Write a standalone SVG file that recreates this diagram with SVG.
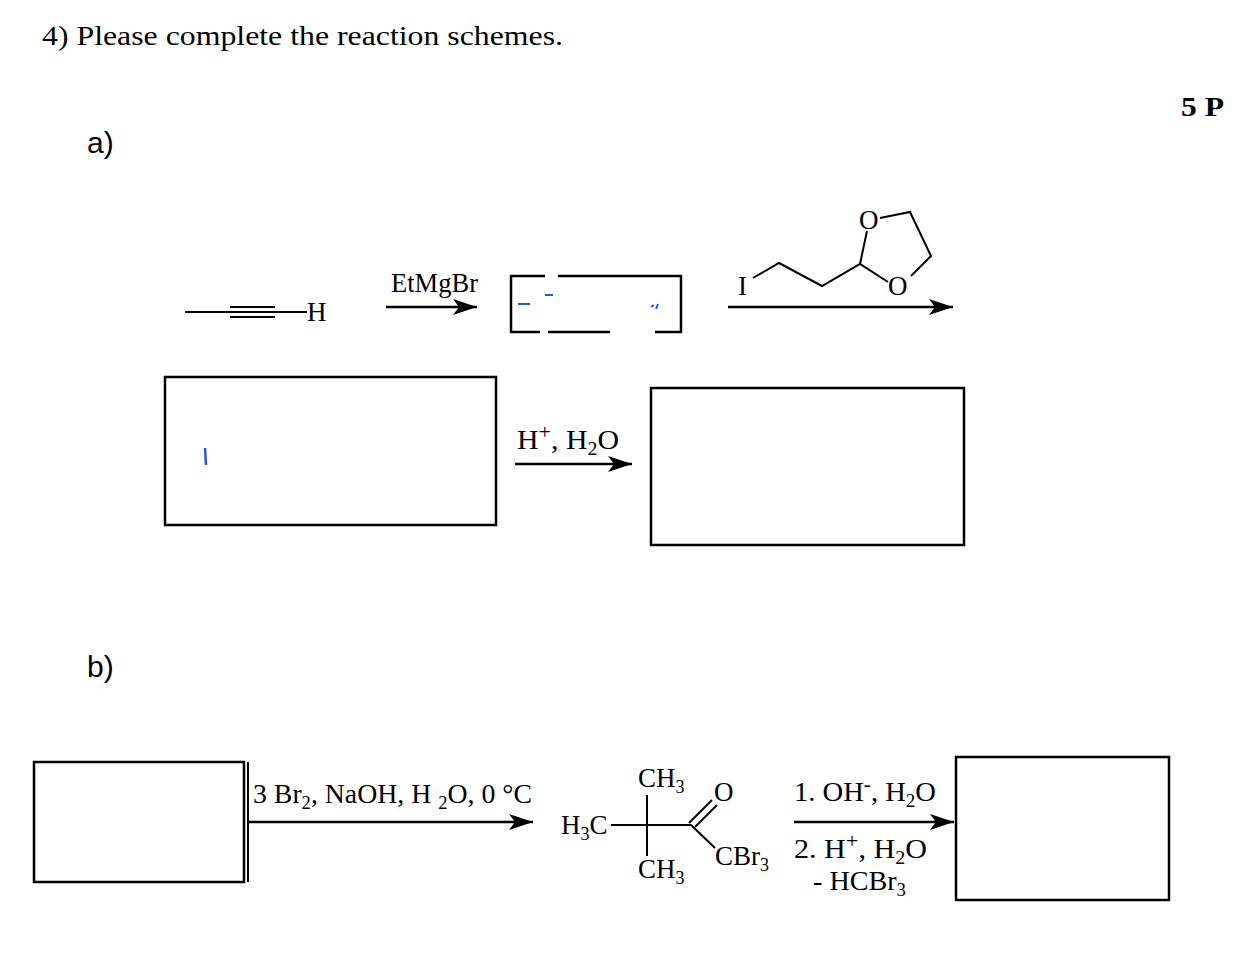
<svg xmlns="http://www.w3.org/2000/svg" width="1259" height="976" viewBox="0 0 1259 976">
<style>
.t{font-family:"Liberation Serif",serif;font-size:27px;fill:#000}
.s{font-family:"Liberation Sans",sans-serif;font-size:30px;fill:#000}
.b{fill:none;stroke:#000;stroke-width:2.5}
.l{fill:none;stroke:#000;stroke-width:2}
.a{fill:none;stroke:#000;stroke-width:2.5}
</style>
<defs><marker id="ah" viewBox="0 0 24 16" refX="24" refY="8" markerWidth="24" markerHeight="16" markerUnits="userSpaceOnUse" orient="auto"><path d="M0,0L24,8L0,16L6,8Z" fill="#000"/></marker></defs>
<rect width="1259" height="976" fill="#fff"/>
<text class="t" x="42" y="45" font-size="30" textLength="521" lengthAdjust="spacingAndGlyphs">4)  Please complete the reaction schemes.</text>
<text class="t" x="1181" y="116" font-size="30" font-weight="bold" textLength="43" lengthAdjust="spacingAndGlyphs">5 P</text>
<text class="s" x="87" y="153">a)</text>
<text class="s" x="87" y="677">b)</text>
<g id="alkyne">
<line class="l" x1="185" y1="312" x2="307" y2="312" stroke-width="2.5"/>
<line class="l" x1="230" y1="307" x2="275" y2="307"/>
<line class="l" x1="230" y1="317" x2="275" y2="317"/>
<text class="t" x="307" y="321">H</text>
</g>
<g id="intermediate">
<path class="b" d="M545,276H511V332H540M558,276H681V332H655M548,332H610"/>
<path d="M518,304h12M545,295h8M651,307l3,-2M658,304l-2,5" stroke="#2255ee" stroke-width="2" fill="none"/>
</g>
<g id="reagent">
<text class="t" x="738" y="295">I</text>
<polyline class="l" points="753,278 779,263 822,286 860,264 888,282"/>
<line class="l" x1="860" y1="264" x2="867" y2="231"/>
<polyline class="l" points="880,218 910,212 931,256 911,276"/>
<text class="t" x="859" y="229">O</text>
<text class="t" x="888" y="295">O</text>
</g>
<g id="box1"><rect class="b" x="165" y="377" width="331" height="148"/>
<line x1="205" y1="448" x2="206" y2="465" stroke="#2255ee" stroke-width="2.5"/></g>
<g id="box2"><rect class="b" x="651" y="388" width="313" height="157"/></g>
<g id="box3"><rect class="b" x="34" y="762" width="210" height="120"/></g>
<g id="box4"><rect class="b" x="956" y="757" width="213" height="143"/></g>
<g id="ketone">
<text class="t" x="561" y="834">H<tspan font-size="18" dy="6">3</tspan><tspan dy="-6">C</tspan></text>
<line class="l" x1="611" y1="825" x2="691" y2="825"/>
<line class="l" x1="647" y1="795" x2="647" y2="856"/>
<text class="t" x="638" y="787">CH<tspan font-size="18" dy="6">3</tspan></text>
<text class="t" x="638" y="878">CH<tspan font-size="18" dy="6">3</tspan></text>
<line class="l" x1="691" y1="825" x2="715" y2="848"/>
<line class="l" x1="689" y1="823" x2="712" y2="800"/>
<line class="l" x1="695" y1="827" x2="717" y2="805"/>
<text class="t" x="714" y="801">O</text>
<text class="t" x="715" y="865">CBr<tspan font-size="18" dy="6">3</tspan></text>
</g>
<g id="connectors">
<line class="a" x1="386" y1="307" x2="477" y2="307" marker-end="url(#ah)"/>
<line class="a" x1="728" y1="307" x2="953" y2="307" marker-end="url(#ah)"/>
<line class="a" x1="515" y1="464" x2="632" y2="464" marker-end="url(#ah)"/>
<line class="a" x1="249" y1="822" x2="533" y2="822" marker-end="url(#ah)"/>
<line class="a" x1="794" y1="822" x2="954" y2="822" marker-end="url(#ah)"/>
<line class="l" x1="248" y1="762" x2="248" y2="882"/>
</g>
<g id="labels">
<text class="t" x="391" y="292" textLength="87" lengthAdjust="spacingAndGlyphs">EtMgBr</text>
<text class="t" x="517" y="449" textLength="102" lengthAdjust="spacingAndGlyphs">H<tspan font-size="20" dy="-10">+</tspan><tspan dy="10">, H</tspan><tspan font-size="18" dy="6">2</tspan><tspan dy="-6">O</tspan></text>
<text class="t" x="253" y="803" textLength="279" lengthAdjust="spacingAndGlyphs">3 Br<tspan font-size="18" dy="6">2</tspan><tspan dy="-6">, NaOH, H </tspan><tspan font-size="18" dy="6">2</tspan><tspan dy="-6">O, 0 °C</tspan></text>
<text class="t" x="794" y="801" textLength="142" lengthAdjust="spacingAndGlyphs">1. OH<tspan font-size="20" dy="-10">-</tspan><tspan dy="10">, H</tspan><tspan font-size="18" dy="6">2</tspan><tspan dy="-6">O</tspan></text>
<text class="t" x="794" y="858" textLength="133" lengthAdjust="spacingAndGlyphs">2. H<tspan font-size="20" dy="-10">+</tspan><tspan dy="10">, H</tspan><tspan font-size="18" dy="6">2</tspan><tspan dy="-6">O</tspan></text>
<text class="t" x="813" y="890" textLength="93" lengthAdjust="spacingAndGlyphs">- HCBr<tspan font-size="18" dy="6">3</tspan></text>
</g>
</svg>
